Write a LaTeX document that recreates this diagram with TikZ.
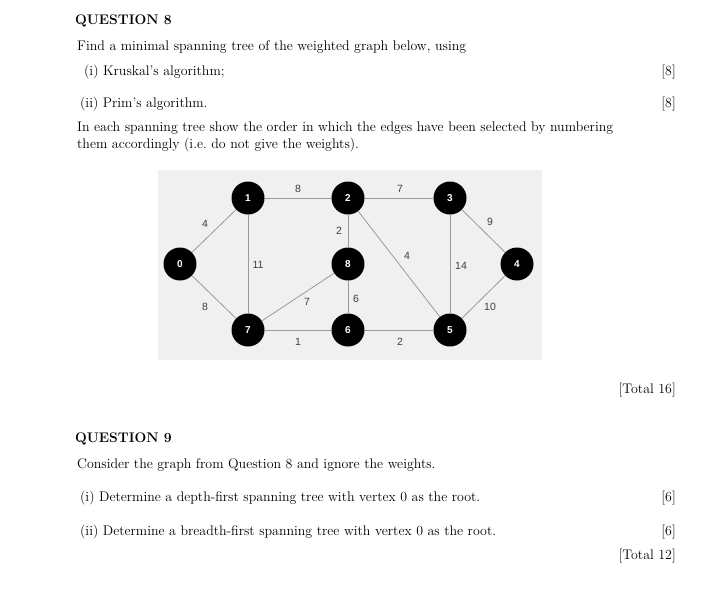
\documentclass[tikz,border=0pt]{standalone}
\usepackage{fontspec}
\newfontfamily\gfont{Liberation Sans}
\begin{document}
\begin{tikzpicture}[x=1pt,y=-1pt,
  txt/.style={anchor=west,inner sep=0pt,font=\fontsize{13.9}{15}\selectfont},
  rtxt/.style={anchor=east,inner sep=0pt,font=\fontsize{13.9}{15}\selectfont},
  vtx/.style={circle,fill=black,minimum size=33pt,inner sep=0pt,text=white,font=\gfont\bfseries\fontsize{10}{11}\selectfont},
  edge/.style={draw=gray!80,line width=0.8pt},
  wt/.style={font=\gfont\fontsize{10.5}{11}\selectfont,text=black!75,inner sep=1pt}]
\useasboundingbox (0,0) rectangle (720,598);
\fill[white] (0,0) rectangle (720,598);
\node[txt] (q8) at (75,21) {\textbf{QUESTION 8}};
\node[txt] (l1) at (77,47) {Find a minimal spanning tree of the weighted graph below, using};
\node[txt] (l2) at (84,72) {(i) Kruskal's algorithm;};
\node[rtxt] (m1) at (676,72) {[8]};
\node[txt] (l3) at (80,104) {(ii) Prim's algorithm.};
\node[rtxt] (m2) at (676,104) {[8]};
\node[txt] (l4) at (77,128) {In each spanning tree show the order in which the edges have been selected by numbering};
\node[txt] (l5) at (77,145) {them accordingly (i.e.\ do not give the weights).};
\fill[black!6] (158,170) rectangle (542,360);
\node[vtx] (n0) at (180,264) {0};
\node[vtx] (n1) at (248,198) {1};
\node[vtx] (n2) at (348,198) {2};
\node[vtx] (n3) at (450,198) {3};
\node[vtx] (n4) at (517,264) {4};
\node[vtx] (n8) at (348,264) {8};
\node[vtx] (n7) at (248,330) {7};
\node[vtx] (n6) at (348,330) {6};
\node[vtx] (n5) at (450,330) {5};
\draw[edge] (n0) -- (n1);
\draw[edge] (n0) -- (n7);
\draw[edge] (n1) -- (n2);
\draw[edge] (n1) -- (n7);
\draw[edge] (n2) -- (n3);
\draw[edge] (n2) -- (n8);
\draw[edge] (n2) -- (n5);
\draw[edge] (n3) -- (n4);
\draw[edge] (n3) -- (n5);
\draw[edge] (n4) -- (n5);
\draw[edge] (n8) -- (n7);
\draw[edge] (n8) -- (n6);
\draw[edge] (n7) -- (n6);
\draw[edge] (n6) -- (n5);
\node[wt] (w01) at (205,224) {4};
\node[wt] (w07) at (205,307) {8};
\node[wt] (w12) at (298,189) {8};
\node[wt] (w17) at (258,265) {11};
\node[wt] (w23) at (400,189) {7};
\node[wt] (w28) at (339,231) {2};
\node[wt] (w25) at (407,256) {4};
\node[wt] (w34) at (490,222) {9};
\node[wt] (w35) at (461,266) {14};
\node[wt] (w45) at (490,307) {10};
\node[wt] (w87) at (307,302) {7};
\node[wt] (w86) at (356,299) {6};
\node[wt] (w76) at (298,342) {1};
\node[wt] (w65) at (400,342) {2};
\node[rtxt] (t16) at (676,390) {[Total 16]};
\node[txt] (q9) at (75,439) {\textbf{QUESTION 9}};
\node[txt] (c1) at (77,465) {Consider the graph from Question 8 and ignore the weights.};
\node[txt] (c2) at (80,498) {(i) Determine a depth-first spanning tree with vertex 0 as the root.};
\node[rtxt] (m3) at (676,498) {[6]};
\node[txt] (c3) at (80,532) {(ii) Determine a breadth-first spanning tree with vertex 0 as the root.};
\node[rtxt] (m4) at (676,532) {[6]};
\node[rtxt] (t12) at (676,556) {[Total 12]};
\end{tikzpicture}
\end{document}
